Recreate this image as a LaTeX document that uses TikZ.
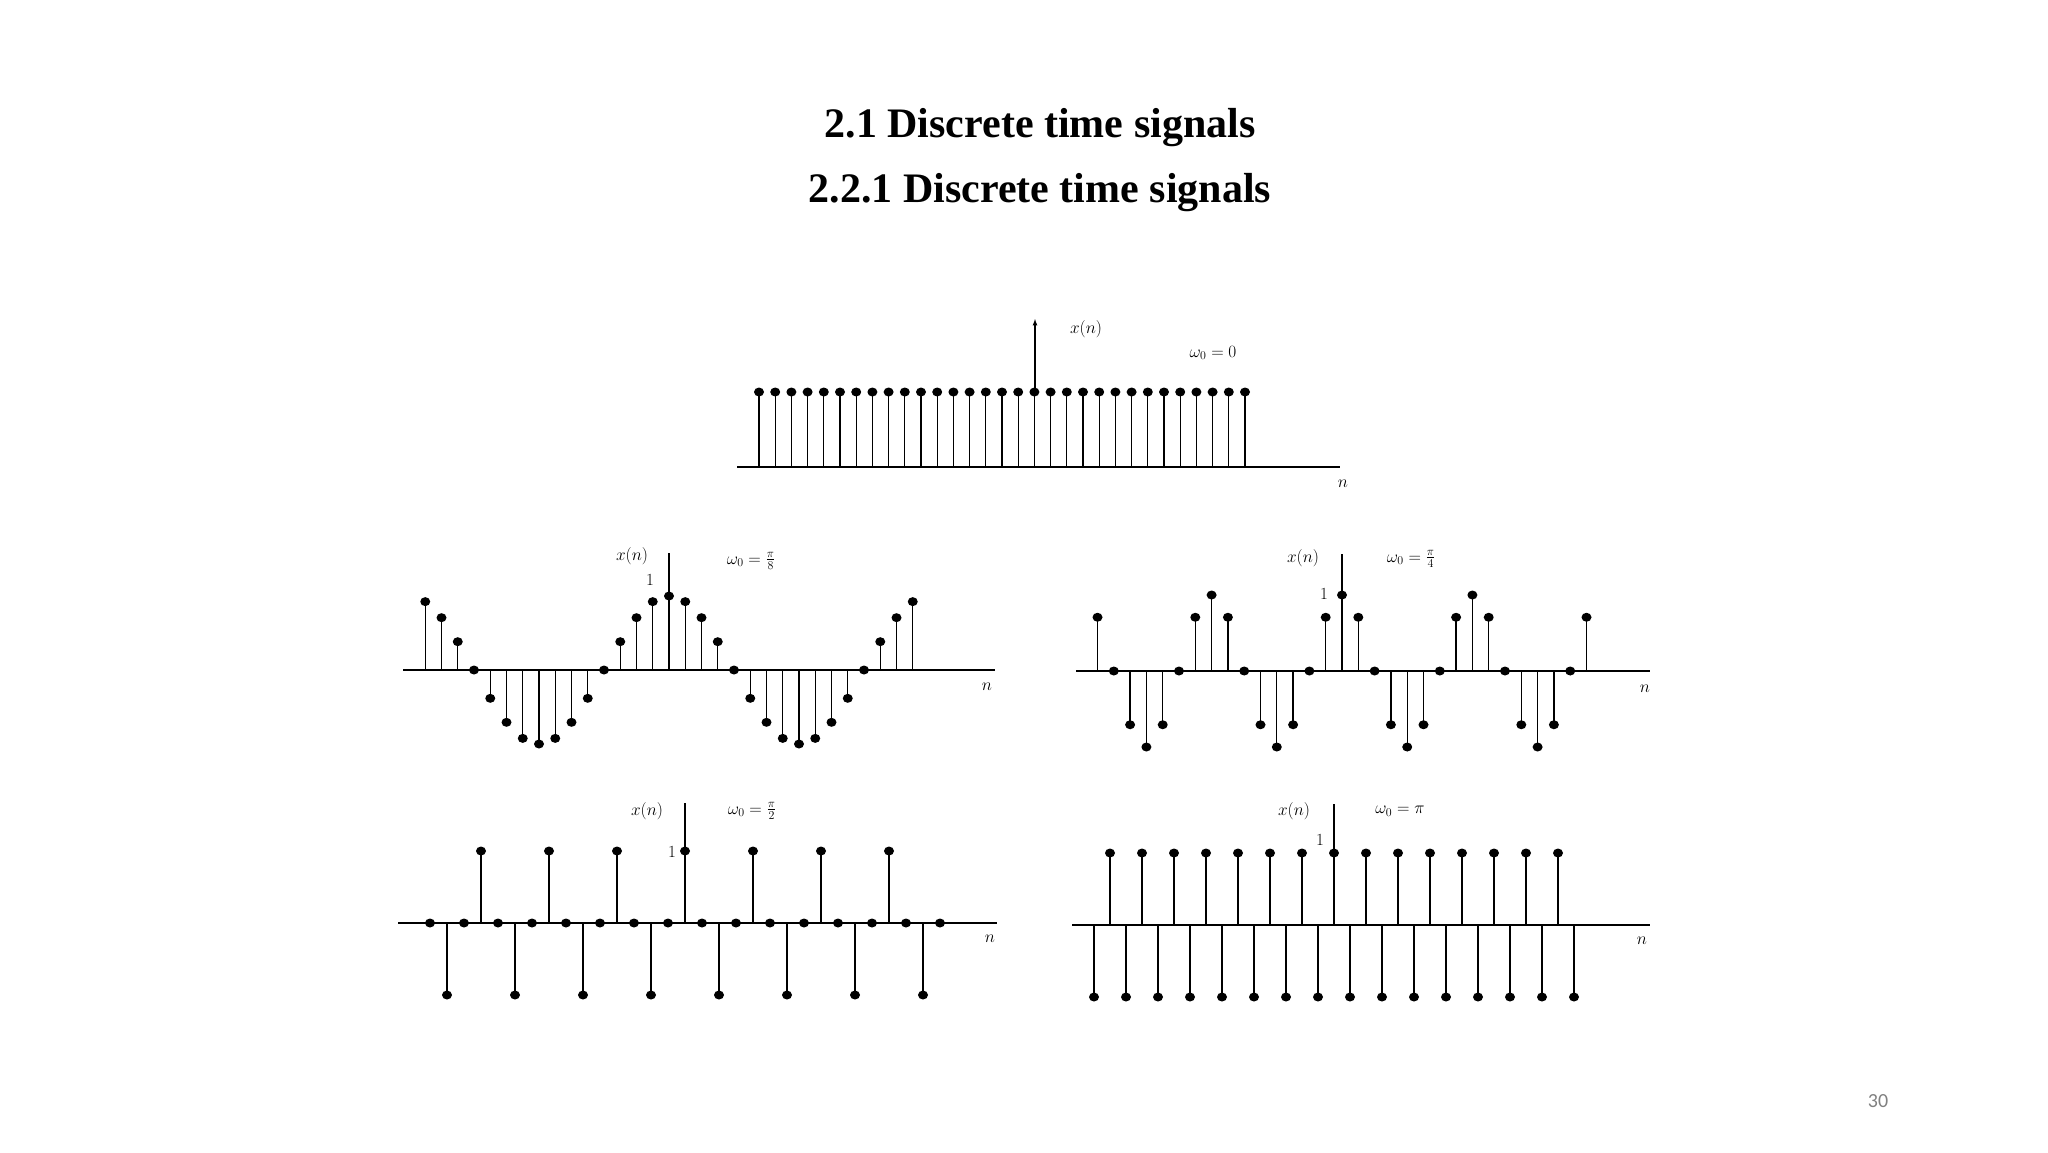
\documentclass[tikz,border=0pt]{standalone}
\usepackage{fontspec}
\newfontfamily\titlefont{Liberation Serif}
\newfontfamily\numfont{Carlito}
\begin{document}
\begin{tikzpicture}[x=1pt,y=-1pt,
  stem/.style={line width=1.3pt},
  axisline/.style={line width=1.6pt},
  lbl/.style={font=\fontsize{17}{19}\selectfont, inner sep=0pt},
  ttl/.style={font=\titlefont\bfseries\fontsize{42}{46}\selectfont}]
\useasboundingbox (0,0) rectangle (2048,1152);
\node[ttl] (t1) at (1040,128) {2.1 Discrete time signals};
\node[ttl] (t2) at (1040,193) {2.2.1 Discrete time signals};
\node[font=\numfont\fontsize{20}{22}\selectfont,text=gray] (pg) at (1878,1101) {30};
% panel 1: w0=0
\draw[axisline] (737,467) -- (1340,467);
\foreach \k in {0,...,30}{
  \draw[stem] ({759+16.2*\k},467) -- ({759+16.2*\k},392);
  \fill ({759+16.2*\k},392) ellipse (5 and 4.5);}
\draw[line width=1.2pt,-latex] (1035,392) -- (1035,319);
\node[lbl] (a1) at (1086,329) {$x(n)$};
\node[lbl] (w1) at (1213,353) {$\omega_0=0$};
\node[lbl] (n1) at (1343,484) {$n$};
% panel 2: pi/8
\draw[axisline] (403,670) -- (995,670);
\draw[stem] (669,670) -- (669,553);
\foreach \k in {-15,...,15}{
  \pgfmathsetmacro{\yy}{670-74*cos(\k*22.5)}
  \draw[stem] ({669+16.25*\k},670) -- ({669+16.25*\k},\yy);
  \fill ({669+16.25*\k},\yy) ellipse (5 and 4.5);}
\node[lbl] (a2) at (632,556) {$x(n)$};
\node[lbl] (o2) at (650,580) {1};
\node[lbl] (w2) at (751,561) {$\omega_0=\frac{\pi}{8}$};
\node[lbl] (n2) at (987,687) {$n$};
% panel 3: pi/4
\draw[axisline] (1076,671) -- (1650,671);
\draw[stem] (1342,671) -- (1342,554);
\foreach \k in {-15,...,15}{
  \pgfmathsetmacro{\yy}{671-76*cos(\k*45)}
  \draw[stem] ({1342+16.3*\k},671) -- ({1342+16.3*\k},\yy);
  \fill ({1342+16.3*\k},\yy) ellipse (5 and 4.5);}
\node[lbl] (a3) at (1303,558) {$x(n)$};
\node[lbl] (o3) at (1324,594) {1};
\node[lbl] (w3) at (1411,559) {$\omega_0=\frac{\pi}{4}$};
\node[lbl] (n3) at (1645,689) {$n$};
% panel 4: pi/2
\draw[axisline] (398,923) -- (997,923);
\draw[stem] (685,923) -- (685,803);
\foreach \k in {-15,...,15}{
  \pgfmathsetmacro{\yy}{923-72*cos(\k*90)}
  \draw[stem] ({685+17*\k},923) -- ({685+17*\k},\yy);
  \fill ({685+17*\k},\yy) ellipse (5 and 4.5);}
\node[lbl] (a4) at (647,811) {$x(n)$};
\node[lbl] (o4) at (672,852) {1};
\node[lbl] (w4) at (752,811) {$\omega_0=\frac{\pi}{2}$};
\node[lbl] (n4) at (990,939) {$n$};
% panel 5: pi
\draw[axisline] (1072,925) -- (1650,925);
\draw[stem] (1334,925) -- (1334,804);
\foreach \k in {-15,...,15}{
  \pgfmathsetmacro{\yy}{925-72*cos(\k*180)}
  \draw[stem] ({1334+16*\k},925) -- ({1334+16*\k},\yy);
  \fill ({1334+16*\k},\yy) ellipse (5 and 4.5);}
\node[lbl] (a5) at (1294,811) {$x(n)$};
\node[lbl] (o5) at (1320,840) {1};
\node[lbl] (w5) at (1400,811) {$\omega_0=\pi$};
\node[lbl] (n5) at (1642,941) {$n$};
\end{tikzpicture}
\end{document}
